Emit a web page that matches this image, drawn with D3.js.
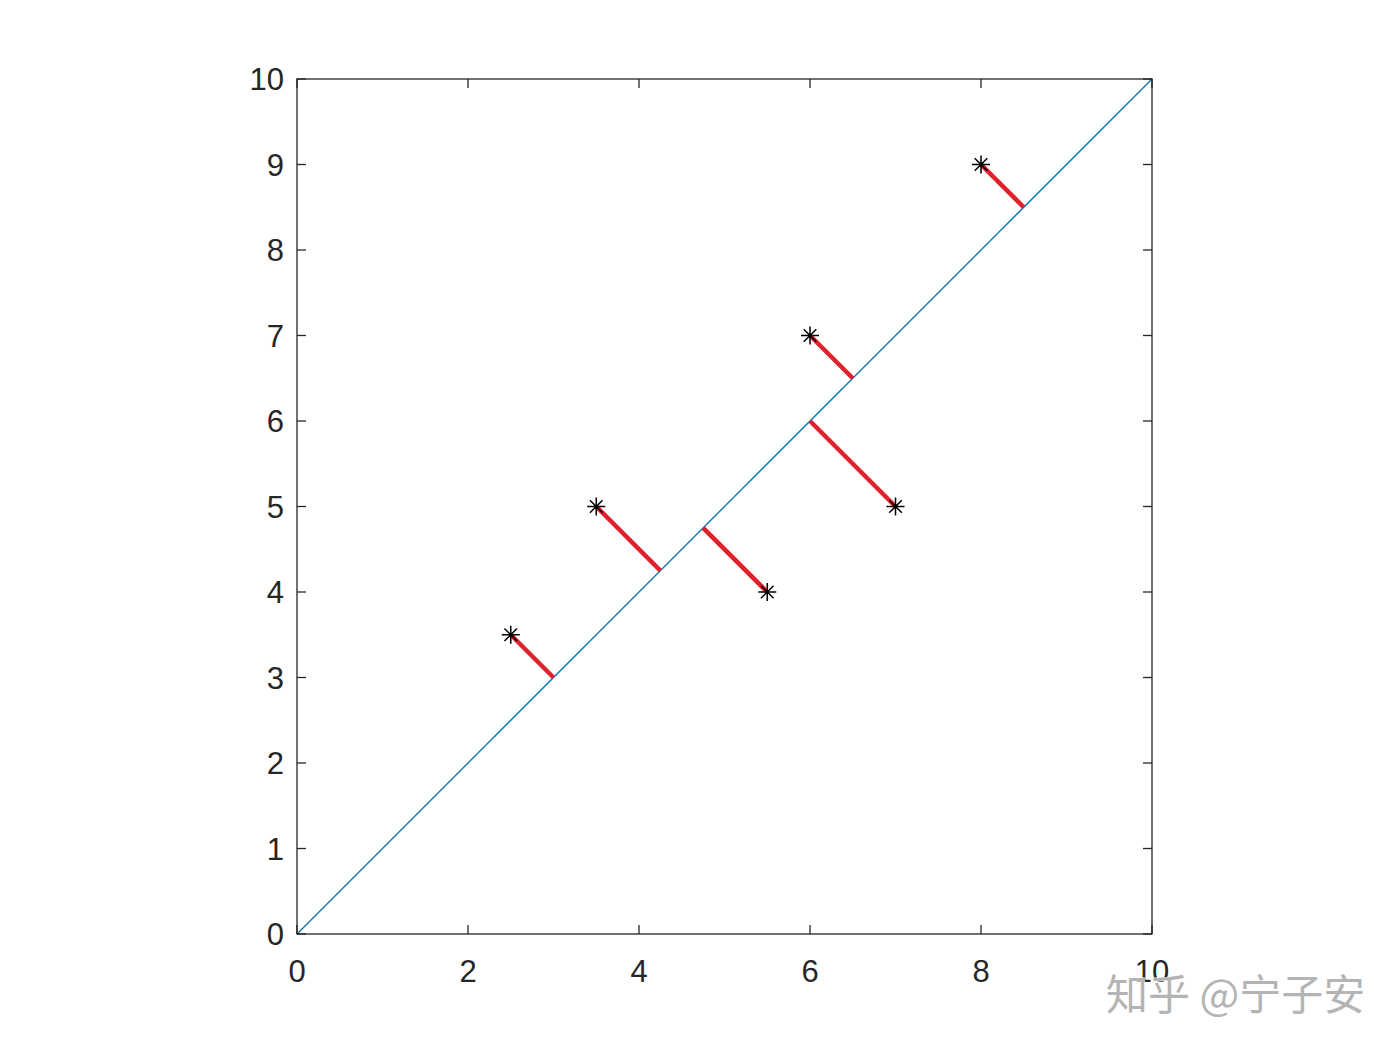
<!DOCTYPE html>
<html><head><meta charset="utf-8">
<script src="https://cdn.jsdelivr.net/npm/d3@7"></script>
<style>body{margin:0;background:#fff}svg{display:block}</style>
</head><body>
<script>
const ptsX = [2.5, 3.5, 5.5, 6, 7, 8];
const ptsY = [3.5, 5, 4, 7, 5, 9];
const lineX = [0, 10];
const lineY = [0, 10];
const xTicks = [0, 2, 4, 6, 8, 10];
const yTicks = [0, 1, 2, 3, 4, 5, 6, 7, 8, 9, 10];
const watermark = "知乎 @宁子安";

const W = 1400, H = 1050;
const L = 297, R = 1152, T = 79, B = 934;
const svg = d3.select("body").append("svg").attr("width", W).attr("height", H);
const x = d3.scaleLinear().domain([0, 10]).range([L, R]);
const y = d3.scaleLinear().domain([0, 10]).range([B, T]);
const axc = "#262626", font = "Arial, 'Liberation Sans', Helvetica, sans-serif";
const tk = 9;

// diagonal line
svg.append("path").datum(lineX.map((v, i) => [v, lineY[i]]))
  .attr("d", d3.line().x(d => x(d[0])).y(d => y(d[1])))
  .attr("fill", "none").attr("stroke", "#0072BD").attr("stroke-width", 1.3);

// projection segments
const proj = ptsX.map((px, i) => { const m = (px + ptsY[i]) / 2; return [px, ptsY[i], m, m]; });
svg.selectAll(".seg").data(proj).enter().append("line")
  .attr("x1", d => x(d[0])).attr("y1", d => y(d[1]))
  .attr("x2", d => x(d[2])).attr("y2", d => y(d[3]))
  .attr("stroke", "#e0202b").attr("stroke-width", 4.5);

// star markers
const s = 9;
const starPath = [[-s,0,s,0],[0,-s,0,s],[-s*0.7,-s*0.7,s*0.7,s*0.7],[-s*0.7,s*0.7,s*0.7,-s*0.7]]
  .map(a => `M${a[0]},${a[1]}L${a[2]},${a[3]}`).join("");
svg.selectAll(".star").data(ptsX.map((v, i) => [v, ptsY[i]])).enter().append("path")
  .attr("transform", d => `translate(${x(d[0])},${y(d[1])})`)
  .attr("d", starPath).attr("stroke", "#000").attr("stroke-width", 1.5).attr("fill", "none");

// axes box
svg.append("rect").attr("x", L).attr("y", T).attr("width", R - L).attr("height", B - T)
  .attr("fill", "none").attr("stroke", axc).attr("stroke-width", 1.3);

const g = svg.append("g");
xTicks.forEach(v => {
  g.append("line").attr("x1", x(v)).attr("x2", x(v)).attr("y1", B).attr("y2", B - tk).attr("stroke", axc).attr("stroke-width", 1.3);
  g.append("line").attr("x1", x(v)).attr("x2", x(v)).attr("y1", T).attr("y2", T + tk).attr("stroke", axc).attr("stroke-width", 1.3);
  g.append("text").attr("x", x(v)).attr("y", B + 48).attr("text-anchor", "middle")
    .attr("font-family", font).attr("font-size", 31).attr("fill", axc).text(v);
});
yTicks.forEach(v => {
  g.append("line").attr("x1", L).attr("x2", L + tk).attr("y1", y(v)).attr("y2", y(v)).attr("stroke", axc).attr("stroke-width", 1.3);
  g.append("line").attr("x1", R).attr("x2", R - tk).attr("y1", y(v)).attr("y2", y(v)).attr("stroke", axc).attr("stroke-width", 1.3);
  g.append("text").attr("x", L - 13).attr("y", y(v)).attr("dy", "0.36em").attr("text-anchor", "end")
    .attr("font-family", font).attr("font-size", 31).attr("fill", axc).text(v);
});

// watermark
svg.append("text").attr("x", 1106).attr("y", 1010)
  .attr("font-family", "'Noto Sans CJK SC', sans-serif").attr("font-size", 42)
  .attr("fill", "#b4b4b4").attr("stroke", "#ffffff").attr("stroke-width", 1).attr("paint-order", "stroke")
  .text(watermark);
</script>
</body></html>
